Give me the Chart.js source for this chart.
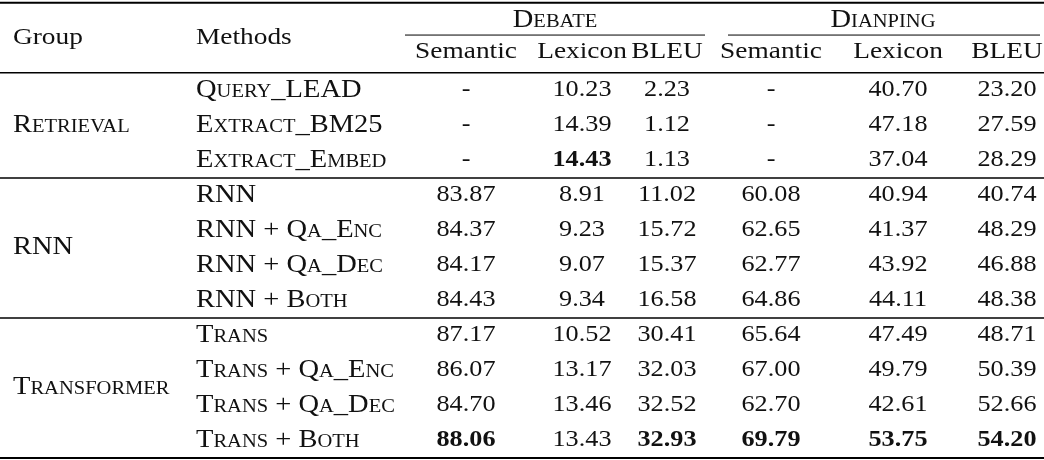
<!DOCTYPE html>
<html>
<head>
<meta charset="utf-8">
<script src="https://cdn.jsdelivr.net/npm/chart.js@4/dist/chart.umd.min.js"></script>
<style>
  html, body { margin: 0; padding: 0; background: #fff; }
  #wrap { width: 1044px; height: 460px; }
</style>
</head>
<body>
<div id="wrap"><canvas id="c"></canvas></div>
<script>
// table content
const groups = ['Retrieval', 'RNN', 'Transformer'];
const groupRows = [[0, 2], [3, 6], [7, 10]];
const methods = ['Query_LEAD', 'Extract_BM25', 'Extract_Embed', 'RNN', 'RNN + Qa_Enc', 'RNN + Qa_Dec',
  'RNN + Both', 'Trans', 'Trans + Qa_Enc', 'Trans + Qa_Dec', 'Trans + Both'];
const colHeaders = ['Semantic', 'Lexicon', 'BLEU', 'Semantic', 'Lexicon', 'BLEU'];
const datasetNames = ['Debate', 'Dianping'];
const debateSemantic = ['-', '-', '-', '83.87', '84.37', '84.17', '84.43', '87.17', '86.07', '84.70', '88.06'];
const debateLexicon = ['10.23', '14.39', '14.43', '8.91', '9.23', '9.07', '9.34', '10.52', '13.17', '13.46', '13.43'];
const debateBleu = ['2.23', '1.12', '1.13', '11.02', '15.72', '15.37', '16.58', '30.41', '32.03', '32.52', '32.93'];
const dianpingSemantic = ['-', '-', '-', '60.08', '62.65', '62.77', '64.86', '65.64', '67.00', '62.70', '69.79'];
const dianpingLexicon = ['40.70', '47.18', '37.04', '40.94', '41.37', '43.92', '44.11', '47.49', '49.79', '42.61', '53.75'];
const dianpingBleu = ['23.20', '27.59', '28.29', '40.74', '48.29', '46.88', '48.38', '48.71', '50.39', '52.66', '54.20'];
// [column, row] of bold cells
const boldCells = [[1, 2], [0, 10], [2, 10], [3, 10], [4, 10], [5, 10]];

const columns = [debateSemantic, debateLexicon, debateBleu, dianpingSemantic, dianpingLexicon, dianpingBleu];

// layout (pixel x, row-index y)
const colX = [466, 582, 667, 771, 898, 1007];
const groupX = 13, methodX = 196;
const FONT = "'Liberation Serif', serif";
const SX = 1.14;

function drawText(ctx, text, x, y, align, opts) {
  opts = opts || {};
  const size = opts.size || (opts.sc ? 25 : 24);
  ctx.save();
  ctx.font = (opts.sc ? 'small-caps ' : '') + (opts.bold ? 'bold ' : '') + size + 'px ' + FONT;
  ctx.fillStyle = '#111';
  ctx.textBaseline = 'middle';
  const w = ctx.measureText(text).width * SX;
  let left = x;
  if (align === 'center') left = x - w / 2;
  ctx.translate(left, y);
  ctx.scale(SX, 1);
  ctx.textAlign = 'left';
  ctx.fillText(text, 0, 0);
  ctx.restore();
}

const tablePlugin = {
  id: 'table',
  afterDatasetsDraw(chart) {
    const ctx = chart.ctx;
    const xs = chart.scales.x, ys = chart.scales.y;
    const py = v => ys.getPixelForValue(v);
    const rule = (x1, x2, r, w) => {
      ctx.save();
      ctx.strokeStyle = '#000';
      ctx.lineWidth = w;
      ctx.beginPath();
      ctx.moveTo(xs.getPixelForValue(x1), py(r));
      ctx.lineTo(xs.getPixelForValue(x2), py(r));
      ctx.stroke();
      ctx.restore();
    };
    rule(0, 1044, -2.49, 2);
    rule(405, 705, -1.57, 1);
    rule(728, 1040, -1.57, 1);
    rule(0, 1044, -0.49, 1.5);
    rule(0, 1044, 2.514, 1.5);
    rule(0, 1044, 6.514, 1.5);
    rule(0, 1044, 10.514, 2);

    drawText(ctx, 'Group', groupX, py(-1.5), 'left');
    drawText(ctx, 'Methods', methodX, py(-1.5), 'left');
    drawText(ctx, datasetNames[0], 555, py(-2), 'center', { sc: true });
    drawText(ctx, datasetNames[1], 883, py(-2), 'center', { sc: true });
    colHeaders.forEach((h, i) => drawText(ctx, h, xs.getPixelForValue(colX[i]), py(-1.086), 'center'));
    groups.forEach((g, i) => {
      const mid = (groupRows[i][0] + groupRows[i][1]) / 2;
      drawText(ctx, g, groupX, py(mid), 'left', { sc: true });
    });
    methods.forEach((m, r) => drawText(ctx, m, methodX, py(r), 'left', { sc: true }));

    chart.data.datasets.forEach((ds, c) => {
      const meta = chart.getDatasetMeta(c);
      meta.data.forEach((pt, r) => {
        const bold = boldCells.some(b => b[0] === c && b[1] === r);
        drawText(ctx, columns[c][r], pt.x, pt.y, 'center', { bold, size: 23 });
      });
    });
  }
};

new Chart(document.getElementById('c'), {
  type: 'scatter',
  data: {
    datasets: columns.map((vals, c) => ({
      data: vals.map((v, r) => ({ x: colX[c], y: r })),
      pointRadius: 0
    }))
  },
  options: {
    responsive: true,
    maintainAspectRatio: false,
    animation: false,
    layout: { padding: 0 },
    plugins: { legend: { display: false }, tooltip: { enabled: false } },
    scales: {
      x: { type: 'linear', min: 0, max: 1044, display: false },
      y: { type: 'linear', min: -90 / 35, max: 370 / 35, reverse: true, display: false }
    }
  },
  plugins: [tablePlugin]
});
</script>
</body>
</html>
